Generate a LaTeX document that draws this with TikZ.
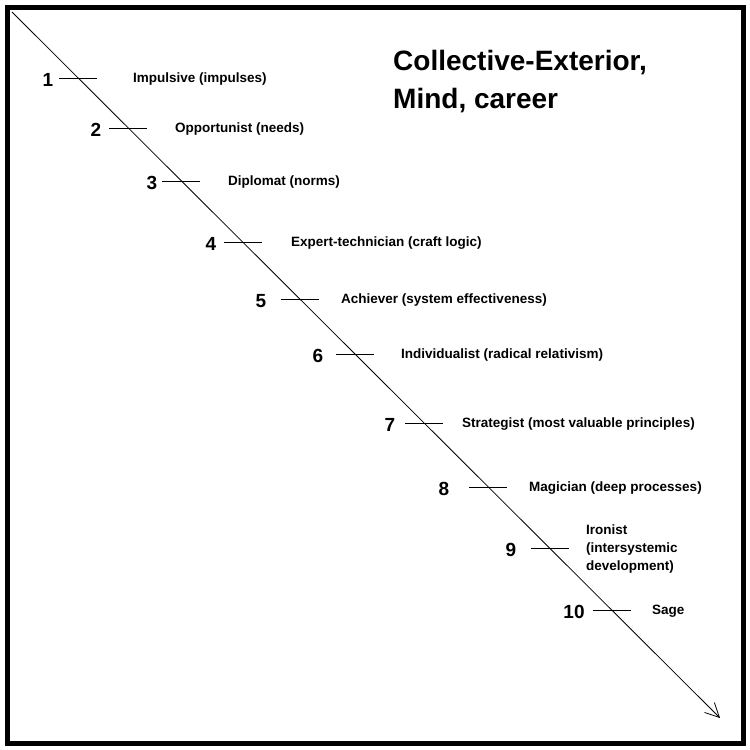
\documentclass[tikz,border=0pt]{standalone}
\usepackage{fontspec}
\setmainfont{Liberation Sans}
\usetikzlibrary{arrows.meta}
\begin{document}
\begin{tikzpicture}[x=1pt,y=-1pt,
  lbl/.style={anchor=west,font=\bfseries\fontsize{13.5}{18}\selectfont,inner sep=0pt},
  num/.style={font=\bfseries\fontsize{19}{20}\selectfont,inner sep=0pt},
  tick/.style={line width=0.8pt}]
\useasboundingbox (0,0) rectangle (750,750);
\draw[line width=5pt] (7,7) rectangle (743,743);
\coordinate (s) at (12,12);
\coordinate (e) at (720,718);
\draw[line width=0.8pt,-{Straight Barb[length=14pt,width=14pt]}] (s) -- (e);
\node[anchor=west,font=\bfseries\fontsize{28}{38}\selectfont,align=left,inner sep=0pt] (title) at (393,82) {Collective-Exterior,\\Mind, career};
\foreach \i/\y/\nx/\lx/\t in {
 1/78/48/133/{Impulsive (impulses)},
 2/128/96/175/{Opportunist (needs)},
 3/181/152/228/{Diplomat (norms)},
 4/242/211/291/{Expert-technician (craft logic)},
 5/299/261/341/{Achiever (system effectiveness)},
 6/354/318/401/{Individualist (radical relativism)},
 7/423/390/462/{Strategist (most valuable principles)},
 8/487/444/529/{Magician (deep processes)},
 9/548/511/586/{Ironist\\(intersystemic\\development)},
 10/610/574/652/{Sage}}{
  \pgfmathsetmacro{\cx}{12+(\y-12)*1.00283}
  \coordinate (t\i a) at (\cx-19,\y);
  \coordinate (t\i b) at (\cx+19,\y);
  \draw[tick] (t\i a) -- (t\i b);
  \node[num] (n\i) at (\nx,\y+2) {\i};
  \node[lbl,align=left] (l\i) at (\lx,\y+1) {\t};
}
\end{tikzpicture}
\end{document}
